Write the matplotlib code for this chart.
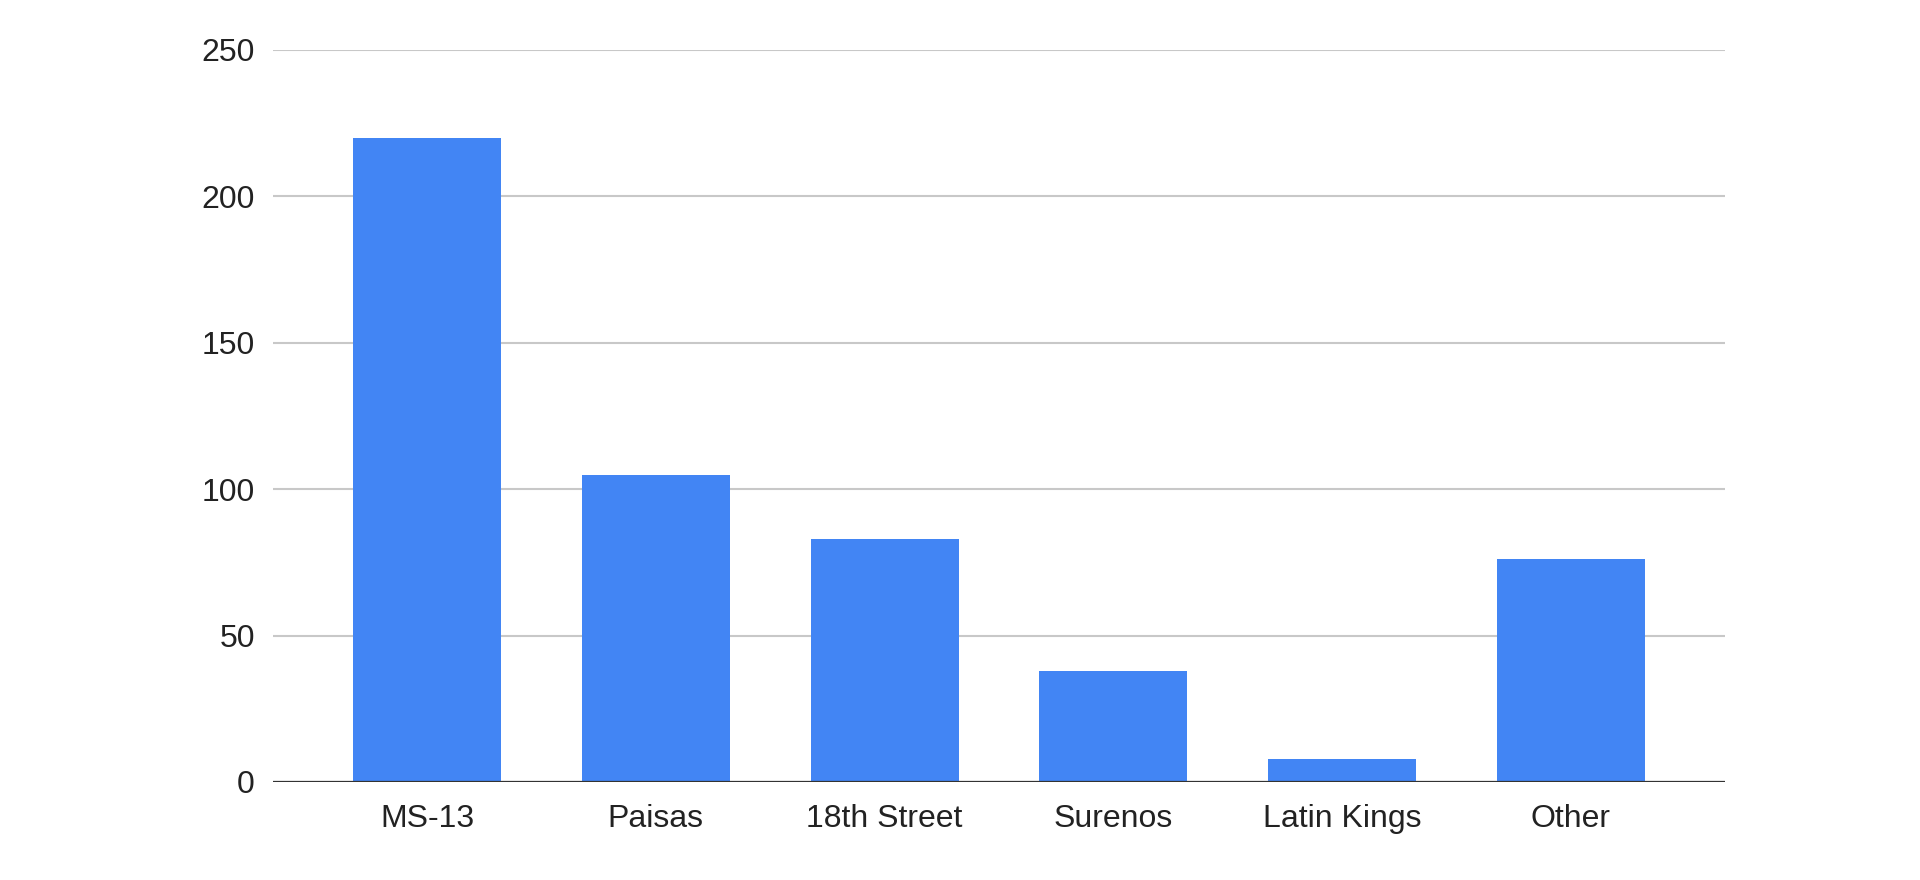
import matplotlib.pyplot as plt

plt.rcParams['font.family'] = ['Liberation Sans', 'DejaVu Sans']

categories = ['MS-13', 'Paisas', '18th Street', 'Surenos', 'Latin Kings', 'Other']
counts = [220, 105, 83, 38, 8, 76]
y_ticks = [0, 50, 100, 150, 200, 250]

fig = plt.figure(figsize=(19.2, 8.8), dpi=100)
ax = fig.add_axes([0.1422, 0.1114, 0.7562, 0.8318])

x = range(len(categories))
ax.bar(x, counts, width=0.647, color='#4285f4', zorder=3)

ax.set_xlim(-0.673, len(categories) - 1 + 0.673)
ax.set_ylim(0, 250)
ax.set_yticks(y_ticks)
ax.set_xticks(list(x))
ax.set_xticklabels(categories)

ax.grid(axis='y', color='#c8c8c8', linewidth=1.5, zorder=0)
ax.axhline(0, color='#333333', linewidth=1.6, zorder=4)

for side in ['top', 'right', 'left', 'bottom']:
    ax.spines[side].set_visible(False)

ax.tick_params(axis='y', length=0, pad=13, labelsize=23, labelcolor='#222222')
ax.tick_params(axis='x', length=0, pad=16, labelsize=23, labelcolor='#222222')

plt.savefig('out.png', dpi=100)
